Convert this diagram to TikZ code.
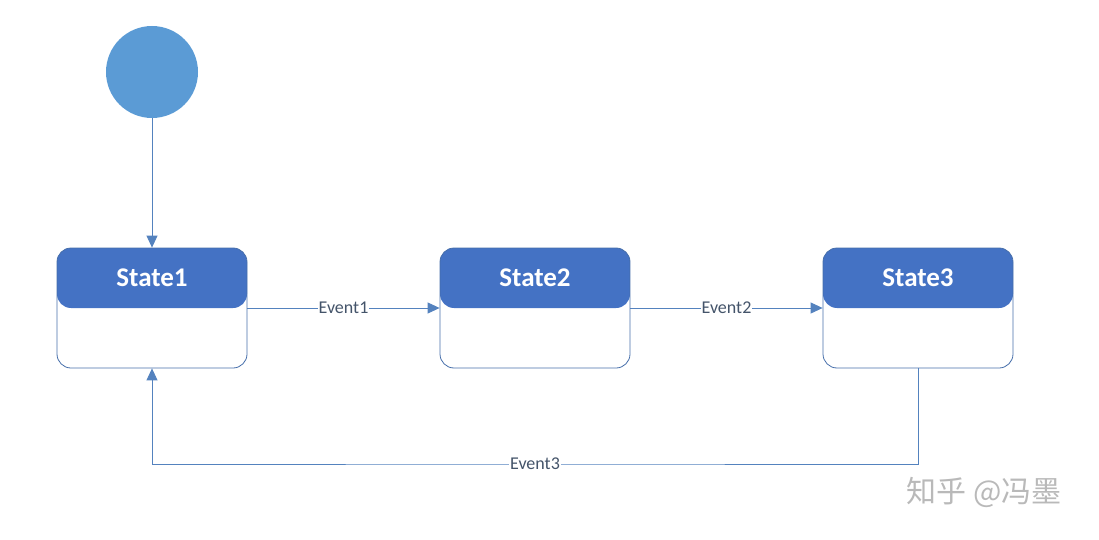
\documentclass[tikz,border=0pt]{standalone}
\usepackage{fontspec}
\setmainfont{Carlito}
\newfontfamily\cjk{Noto Sans CJK SC}
\usetikzlibrary{positioning,arrows.meta}
\definecolor{headBlue}{RGB}{68,114,196}
\definecolor{edgeBlue}{RGB}{70,110,170}
\definecolor{lineBlue}{RGB}{84,130,190}
\definecolor{dotBlue}{RGB}{91,155,213}
\definecolor{labelGray}{RGB}{68,84,106}

\tikzset{
  statebox/.style={draw=edgeBlue, rounded corners=14pt, minimum width=190pt, minimum height=120pt, line width=0.8pt,
    path picture={\fill[headBlue] ([yshift=1pt]path picture bounding box.north west) rectangle (path picture bounding box.east);}},
  statetitle/.style={white, font=\fontsize{27}{30}\selectfont\bfseries},
  trans/.style={lineBlue, line width=0.9pt, -{Triangle[length=12pt,width=11pt]}},
  evlabel/.style={fill=white, text=labelGray, font=\fontsize{18}{21}\selectfont, inner sep=1pt}
}

\begin{document}
\begin{tikzpicture}[x=1pt, y=-1pt]
\useasboundingbox (0,0) rectangle (1099,540);

% Initial state
\node[circle, fill=dotBlue, minimum size=92pt, inner sep=0] (init) at (152,72) {};

% States
\node[statebox] (s1) at (152,308) {};
\node[statebox] (s2) at (535,308) {};
\node[statebox] (s3) at (918,308) {};
\foreach \s/\t in {s1/State1, s2/State2, s3/State3} {
  \node[statetitle] (\s t) at ([yshift=30pt]\s.center) {\t};
}

% Transitions
\draw[trans] (init) -- (s1);
\draw[trans] (s1.east) -- node[evlabel] {Event1} (s2.west);
\draw[trans] (s2.east) -- node[evlabel] {Event2} (s3.west);
\coordinate (back) at (535,464);
\draw[trans] (s3.south) |- (back) node[evlabel] {Event3} -| (s1.south);

% Watermark
\node[gray!55, font=\cjk\fontsize{30}{34}\selectfont] (mark) at (984,492) {知乎 @冯墨};
\end{tikzpicture}
\end{document}
